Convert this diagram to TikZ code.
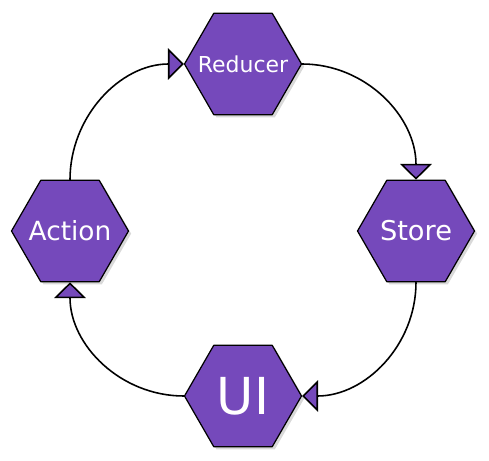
\documentclass[tikz,border=0pt]{standalone}
\usepackage{fontspec}
\setmainfont{DejaVu Sans}
\usetikzlibrary{shapes.geometric,arrows.meta,shadows}
\definecolor{hexpurple}{RGB}{117,73,187}
\newcommand{\hexlabel}[1]{\makebox[0pt]{#1}}
\tikzset{
	hexnode/.style={regular polygon, regular polygon sides=6, minimum size=2.34cm, inner sep=0pt,
		fill=hexpurple, draw=black, line width=0.7pt, text=white,
		drop shadow={shadow xshift=1.5pt, shadow yshift=-1.5pt, opacity=0.3, fill=gray}},
	flow/.style={line width=0.9pt, -{Triangle[width=18pt, length=9pt, fill=hexpurple]}}
}
\begin{document}
\begin{tikzpicture}[line join=round, line cap=round]
		\useasboundingbox (-4.86,-4.58) rectangle (4.92,4.62);
		\node[hexnode, font=\fontsize{12.5}{14}\selectfont] (reducer) at (0,3.34) {\hexlabel{Reducer}};
		\node[hexnode, font=\fontsize{15.5}{17}\selectfont] (store) at (3.46,0) {\hexlabel{Store}};
		\node[hexnode, font=\fontsize{29}{32}\selectfont] (ui) at (0,-3.3) {\hexlabel{UI}};
		\node[hexnode, font=\fontsize{15}{17}\selectfont] (action) at (-3.46,0) {\hexlabel{Action}};
		\draw[flow] (reducer.east) to[out=0, in=90] (store.north);
		\draw[flow] (store.south) to[out=-90, in=0] (ui.east);
		\draw[flow] (ui.west) to[out=180, in=-90] (action.south);
		\draw[flow] (action.north) to[out=90, in=180] (reducer.west);
		\end{tikzpicture}
\end{document}
